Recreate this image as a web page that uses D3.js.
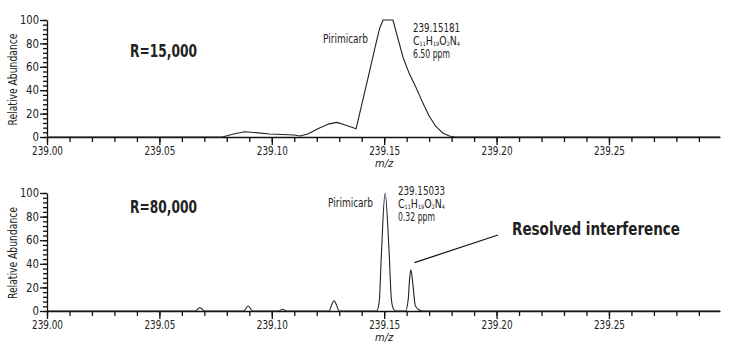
<!DOCTYPE html>
<html lang="en">
    <head>
        <meta charset="utf-8">
        <title>Pirimicarb R=15,000 vs R=80,000</title>
        <script src="https://d3js.org/d3.v7.min.js"></script>
        <style type="text/css">
            body { margin: 0; background: #fff; }
            svg text { font-family: "Liberation Sans Narrow", "DejaVu Sans Condensed", "Arial Narrow", sans-serif; fill: #222; }
            .axis path, .axis line { stroke: #111; stroke-width: 1.3; }
            .axis text { font-size: 11.5px; fill: #222; }
        </style>
    </head>
    <body>
        <script>
        // tick labels
        const xMajorTicks = [239.00, 239.05, 239.10, 239.15, 239.20, 239.25];
        const xMinorTicks = d3.range(0, 30).map(i => 239 + i * 0.01);
        const yMajorTicks = [0, 20, 40, 60, 80, 100];
        const yMinorTicks = d3.range(0, 101, 4);

        // R=15,000 profile (m/z, relative abundance)
        const lowResMz  = [239.000, 239.078, 239.083, 239.088, 239.094, 239.099, 239.105, 239.110, 239.1125, 239.116,
                           239.121, 239.125, 239.129, 239.133, 239.1375, 239.143, 239.146, 239.148, 239.1495, 239.1539,
                           239.1584, 239.161, 239.164, 239.167, 239.170, 239.173, 239.176, 239.179, 239.1815, 239.2994];
        const lowResAb  = [0, 0, 2.5, 4.5, 3.5, 2.6, 2.1, 1.7, 0.9, 2.6,
                           7.5, 11, 12.5, 10, 7, 52, 77, 93, 100, 100,
                           68, 55, 43, 30, 18, 9, 3.5, 0.8, 0, 0];

        // R=80,000 profile
        const highResMz = [239.000,
                           239.0660, 239.0680, 239.0700,
                           239.0875, 239.0895, 239.0915,
                           239.1030, 239.1048, 239.1066,
                           239.1255, 239.1268, 239.1277, 239.1286, 239.1300,
                           239.1466, 239.1478, 239.1488, 239.1504, 239.1522, 239.1532, 239.1542, 239.1552,
                           239.1595, 239.1607, 239.1613, 239.1619, 239.1628, 239.1638, 239.1652, 239.1672,
                           239.2994];
        const highResAb = [0,
                           0, 3, 0,
                           0, 4.2, 0,
                           0, 1.5, 0,
                           0, 6, 8.7, 6, 0,
                           0, 8, 50, 100, 50, 10, 1.5, 0,
                           0, 10, 27, 35, 22, 5, 1.2, 0,
                           0];

        const panelLabels = ["R=15,000", "R=80,000"];
        const peakMz = ["239.15181", "239.15033"];
        const peakPpm = ["6.50 ppm", "0.32 ppm"];

        const width = 731, height = 354;
        const xLeft = 47, xRight = 720;

        const svg = d3.select("body").append("svg")
            .attr("width", width)
            .attr("height", height);

        const xScale = d3.scaleLinear()
            .domain([239.00, 239.2994])
            .range([xLeft, xRight]);

        const panels = [
            { top: 20, bottom: 137, mz: lowResMz, ab: lowResAb, curve: d3.curveLinear },
            { top: 193, bottom: 311, mz: highResMz, ab: highResAb, curve: d3.curveMonotoneX }
        ];

        // narrow label helper: fixed width so the condensed look of the original is kept
        function fit(sel, w) {
            return sel.attr("textLength", w).attr("lengthAdjust", "spacingAndGlyphs");
        }

        panels.forEach((p, i) => {
            const yScale = d3.scaleLinear().domain([0, 100]).range([p.bottom, p.top]);
            const g = svg.append("g");

            // minor ticks first
            g.append("g").attr("class", "axis")
                .attr("transform", "translate(0," + p.bottom + ")")
                .call(d3.axisBottom(xScale).tickValues(xMinorTicks).tickSize(5).tickFormat(""))
                .call(a => a.select(".domain").remove());
            g.append("g").attr("class", "axis")
                .attr("transform", "translate(0," + p.bottom + ")")
                .call(d3.axisBottom(xScale).tickValues(xMajorTicks).tickSizeInner(8).tickSizeOuter(0)
                    .tickPadding(2).tickFormat(d3.format(".2f")))
                .call(a => fit(a.selectAll("text"), 31));

            g.append("g").attr("class", "axis")
                .attr("transform", "translate(" + xLeft + ",0)")
                .call(d3.axisLeft(yScale).tickValues(yMinorTicks).tickSize(4).tickFormat(""))
                .call(a => a.select(".domain").remove());
            g.append("g").attr("class", "axis")
                .attr("transform", "translate(" + xLeft + ",0)")
                .call(d3.axisLeft(yScale).tickValues(yMajorTicks).tickSizeInner(7).tickSizeOuter(0).tickPadding(1))
                .call(a => a.selectAll("text").each(function(d) {
                    fit(d3.select(this), d === 100 ? 19 : (d === 0 ? 6.5 : 13));
                }));

            // spectrum
            const pts = p.mz.map((m, k) => [m, p.ab[k]]);
            g.append("path")
                .datum(pts)
                .attr("fill", "none")
                .attr("stroke", "#222")
                .attr("stroke-width", 1.1)
                .attr("stroke-linejoin", "round")
                .attr("d", d3.line().x(d => xScale(d[0])).y(d => yScale(d[1])).curve(p.curve));

            // axis titles
            fit(g.append("text")
                .attr("transform", "translate(17," + ((p.top + p.bottom) / 2 + 1) + ") rotate(-90)")
                .attr("text-anchor", "middle")
                .style("font-size", "11.5px")
                .text("Relative Abundance"), 92);
            g.append("text")
                .attr("x", xScale(239.15))
                .attr("y", p.bottom + 30)
                .attr("text-anchor", "middle")
                .style("font-size", "11px")
                .style("font-style", "italic")
                .text("m/z");

            // resolution label
            fit(g.append("text")
                .attr("x", 130)
                .attr("y", p.top + (i === 0 ? 37 : 20))
                .style("font-size", "17px")
                .style("font-weight", "bold")
                .text(panelLabels[i]), 67);

            // peak annotations
            const ann = i === 0 ? { nameX: 323, nameY: 43, infoX: 413, infoY: 32 }
                                : { nameX: 328, nameY: 207, infoX: 398, infoY: 195 };
            fit(g.append("text").attr("x", ann.nameX).attr("y", ann.nameY)
                .style("font-size", "12px").text("Pirimicarb"), 45);
            fit(g.append("text").attr("x", ann.infoX).attr("y", ann.infoY)
                .style("font-size", "12px").text(peakMz[i]), 47);
            const f = g.append("text").attr("x", ann.infoX).attr("y", ann.infoY + 12.5)
                .style("font-size", "11.5px");
            [["C", false], ["11", true], ["H", false], ["19", true], ["O", false], ["2", true], ["N", false], ["4", true]]
                .forEach(([t, sub], k) => {
                    const ts = f.append("tspan").text(t);
                    if (sub) ts.style("font-size", "6px").attr("dy", 1.5);
                    else ts.attr("dy", k > 0 ? -1.5 : 0);
                });
            fit(f, 47);
            fit(g.append("text").attr("x", ann.infoX).attr("y", ann.infoY + 26)
                .style("font-size", "12px").text(peakPpm[i]), 37);
        });

        // resolved interference callout
        const yBottom = d3.scaleLinear().domain([0, 100]).range([311, 193]);
        svg.append("line")
            .attr("x1", xScale(239.1635)).attr("y1", yBottom(41))
            .attr("x2", 498).attr("y2", 235)
            .attr("stroke", "#111").attr("stroke-width", 1.2);
        fit(svg.append("text")
            .attr("x", 512).attr("y", 235)
            .style("font-size", "18px")
            .style("font-weight", "bold")
            .text("Resolved interference"), 168);
        </script>
    </body>
</html>
